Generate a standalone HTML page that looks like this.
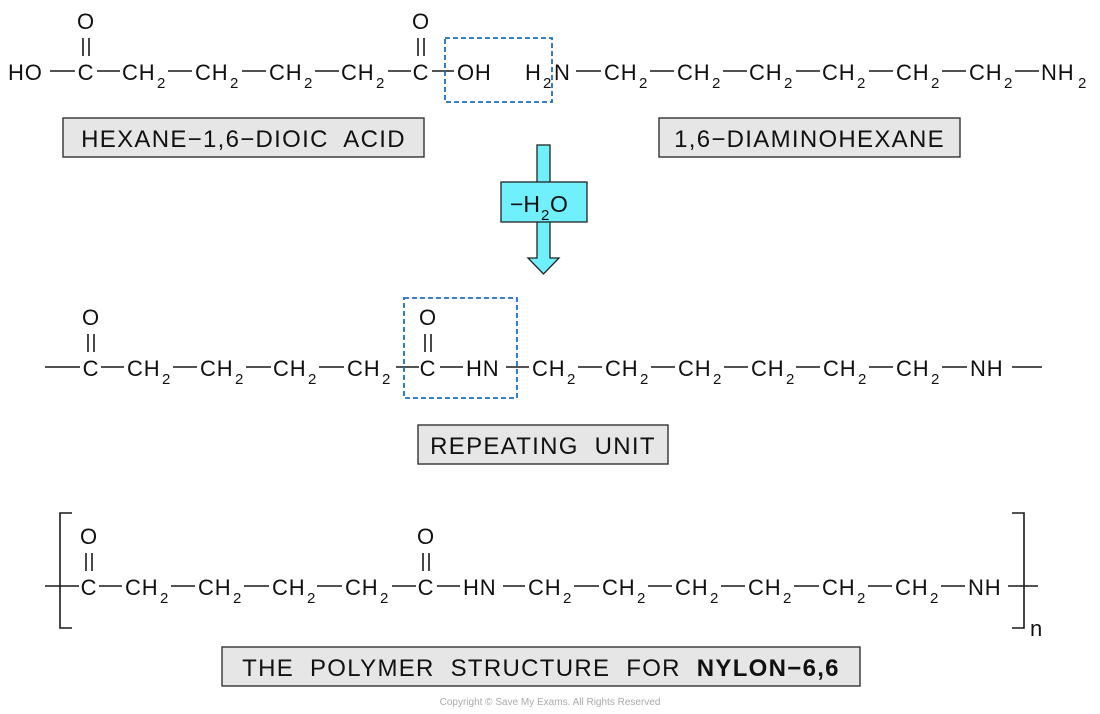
<!DOCTYPE html>
<html><head><meta charset="utf-8"><style>
html,body{margin:0;padding:0;background:#fff;}
svg{display:block;}
text{font-family:"Liberation Sans",sans-serif;fill:#111;}
.m{font-size:22px;letter-spacing:0.8px;}
.s{font-size:15px;}
.lb{font-size:24px;letter-spacing:1.3px;}
</style></head><body>
<svg width="1100" height="714" viewBox="0 0 1100 714" xmlns="http://www.w3.org/2000/svg">
<g stroke="#1a1a1a" stroke-width="1.6" fill="none">
<line x1="50" y1="71" x2="75" y2="71"/><line x1="97" y1="71" x2="120" y2="71"/>
<line x1="168" y1="71" x2="192" y2="71"/><line x1="242" y1="71" x2="266" y2="71"/>
<line x1="315" y1="71" x2="339" y2="71"/><line x1="388" y1="71" x2="411" y2="71"/>
<line x1="432" y1="71" x2="454" y2="71"/>
<line x1="83" y1="38" x2="83" y2="56"/><line x1="89" y1="38" x2="89" y2="56"/>
<line x1="418" y1="38" x2="418" y2="56"/><line x1="424" y1="38" x2="424" y2="56"/>
<line x1="576" y1="71" x2="601" y2="71"/><line x1="650" y1="71" x2="674" y2="71"/>
<line x1="723" y1="71" x2="747" y2="71"/><line x1="796" y1="71" x2="820" y2="71"/>
<line x1="869" y1="71" x2="893" y2="71"/><line x1="942" y1="71" x2="966" y2="71"/>
<line x1="1015" y1="71" x2="1039" y2="71"/>
<line x1="45" y1="367" x2="80" y2="367"/><line x1="101" y1="367" x2="124" y2="367"/>
<line x1="173" y1="367" x2="197" y2="367"/><line x1="246" y1="367" x2="271" y2="367"/>
<line x1="319" y1="367" x2="344" y2="367"/><line x1="396" y1="367" x2="419" y2="367"/>
<line x1="440" y1="367" x2="463" y2="367"/><line x1="506" y1="367" x2="529" y2="367"/>
<line x1="578" y1="367" x2="602" y2="367"/><line x1="651" y1="367" x2="675" y2="367"/>
<line x1="724" y1="367" x2="748" y2="367"/><line x1="796" y1="367" x2="820" y2="367"/>
<line x1="869" y1="367" x2="893" y2="367"/><line x1="942" y1="367" x2="967" y2="367"/>
<line x1="1012" y1="367" x2="1042" y2="367"/>
<line x1="88" y1="334" x2="88" y2="352"/><line x1="94" y1="334" x2="94" y2="352"/>
<line x1="425" y1="334" x2="425" y2="352"/><line x1="431" y1="334" x2="431" y2="352"/>
<line x1="45" y1="586" x2="79" y2="586"/><line x1="99" y1="586" x2="122" y2="586"/>
<line x1="171" y1="586" x2="195" y2="586"/><line x1="244" y1="586" x2="269" y2="586"/>
<line x1="317" y1="586" x2="342" y2="586"/><line x1="392" y1="586" x2="416" y2="586"/>
<line x1="437" y1="586" x2="460" y2="586"/><line x1="503" y1="586" x2="525" y2="586"/>
<line x1="574" y1="586" x2="599" y2="586"/><line x1="648" y1="586" x2="672" y2="586"/>
<line x1="721" y1="586" x2="745" y2="586"/><line x1="794" y1="586" x2="819" y2="586"/>
<line x1="868" y1="586" x2="892" y2="586"/><line x1="941" y1="586" x2="965" y2="586"/>
<line x1="1008" y1="586" x2="1038" y2="586"/>
<line x1="86" y1="553" x2="86" y2="571"/><line x1="92" y1="553" x2="92" y2="571"/>
<line x1="423" y1="553" x2="423" y2="571"/><line x1="429" y1="553" x2="429" y2="571"/>
<polyline points="72,513 60,513 60,628 72,628"/>
<polyline points="1012,513 1024,513 1024,628 1012,628"/>
</g>
<rect x="445" y="38" width="107" height="64" fill="none" stroke="#1f6fc0" stroke-width="1.8" stroke-dasharray="5,3"/>
<rect x="404" y="298" width="113" height="100" fill="none" stroke="#1f6fc0" stroke-width="1.8" stroke-dasharray="5,3"/>
<g class="m">
<text x="8" y="80">HO</text>
<text x="86" y="80" text-anchor="middle">C</text><text x="86" y="29" text-anchor="middle">O</text>
<text x="122" y="80">CH</text><text x="195" y="80">CH</text><text x="269" y="80">CH</text><text x="341" y="80">CH</text>
<text x="421" y="80" text-anchor="middle">C</text><text x="421" y="29" text-anchor="middle">O</text>
<text x="457" y="80">OH</text>
<text x="525" y="80">H</text><text x="554" y="80">N</text>
<text x="604" y="80">CH</text><text x="677" y="80">CH</text><text x="749" y="80">CH</text><text x="822" y="80">CH</text><text x="896" y="80">CH</text><text x="969" y="80">CH</text>
<text x="1041" y="80">NH</text>
</g>
<g class="s">
<text x="157" y="88">2</text><text x="230" y="88">2</text><text x="304" y="88">2</text><text x="376" y="88">2</text>
<text x="543" y="88">2</text>
<text x="639" y="88">2</text><text x="712" y="88">2</text><text x="784" y="88">2</text><text x="857" y="88">2</text><text x="931" y="88">2</text><text x="1004" y="88">2</text><text x="1078" y="88">2</text>
</g>
<g class="m">
<text x="91" y="376" text-anchor="middle">C</text><text x="91" y="325" text-anchor="middle">O</text>
<text x="127" y="376">CH</text><text x="200" y="376">CH</text><text x="273" y="376">CH</text><text x="347" y="376">CH</text>
<text x="428" y="376" text-anchor="middle">C</text><text x="428" y="325" text-anchor="middle">O</text>
<text x="466" y="376">HN</text>
<text x="532" y="376">CH</text><text x="605" y="376">CH</text><text x="678" y="376">CH</text><text x="751" y="376">CH</text><text x="823" y="376">CH</text><text x="896" y="376">CH</text>
<text x="970" y="376">NH</text>
</g>
<g class="s">
<text x="162" y="384">2</text><text x="235" y="384">2</text><text x="308" y="384">2</text><text x="382" y="384">2</text>
<text x="567" y="384">2</text><text x="640" y="384">2</text><text x="713" y="384">2</text><text x="786" y="384">2</text><text x="858" y="384">2</text><text x="931" y="384">2</text>
</g>
<g class="m">
<text x="89" y="595" text-anchor="middle">C</text><text x="89" y="544" text-anchor="middle">O</text>
<text x="125" y="595">CH</text><text x="198" y="595">CH</text><text x="272" y="595">CH</text><text x="345" y="595">CH</text>
<text x="426" y="595" text-anchor="middle">C</text><text x="426" y="544" text-anchor="middle">O</text>
<text x="463" y="595">HN</text>
<text x="528" y="595">CH</text><text x="602" y="595">CH</text><text x="675" y="595">CH</text><text x="748" y="595">CH</text><text x="822" y="595">CH</text><text x="895" y="595">CH</text>
<text x="968" y="595">NH</text>
<text x="1030" y="636">n</text>
</g>
<g class="s">
<text x="160" y="603">2</text><text x="233" y="603">2</text><text x="307" y="603">2</text><text x="380" y="603">2</text>
<text x="563" y="603">2</text><text x="637" y="603">2</text><text x="710" y="603">2</text><text x="783" y="603">2</text><text x="857" y="603">2</text><text x="930" y="603">2</text>
</g>
<g fill="#e6e6e6" stroke="#333" stroke-width="1.4">
<rect x="63" y="118" width="361" height="39"/>
<rect x="659" y="118" width="301" height="39"/>
<rect x="418" y="425" width="250" height="39"/>
<rect x="222" y="647" width="638" height="39"/>
</g>
<text class="lb" x="243.5" y="147" text-anchor="middle" xml:space="preserve">HEXANE−1,6−DIOIC  ACID</text>
<text class="lb" x="809.5" y="147" text-anchor="middle">1,6−DIAMINOHEXANE</text>
<text class="lb" x="543" y="454" text-anchor="middle" xml:space="preserve">REPEATING  UNIT</text>
<text class="lb" x="541" y="676" text-anchor="middle" xml:space="preserve">THE  POLYMER  STRUCTURE  FOR  <tspan font-weight="bold">NYLON−6,6</tspan></text>
<g fill="#6ff0fc" stroke="#222" stroke-width="1.3">
<rect x="537" y="145" width="13" height="40"/>
<polygon points="537,220 550,220 550,258 559,258 543.5,274 528,258 537,258"/>
<rect x="501" y="182" width="86" height="40"/>
</g>
<text x="510" y="212" style="font-size:23px">−H</text><text class="s" x="541" y="220">2</text><text x="550" y="212" style="font-size:23px">O</text>
<text x="550" y="705" text-anchor="middle" style="font-size:10px;fill:#aaa">Copyright © Save My Exams. All Rights Reserved</text>
</svg>
</body></html>
